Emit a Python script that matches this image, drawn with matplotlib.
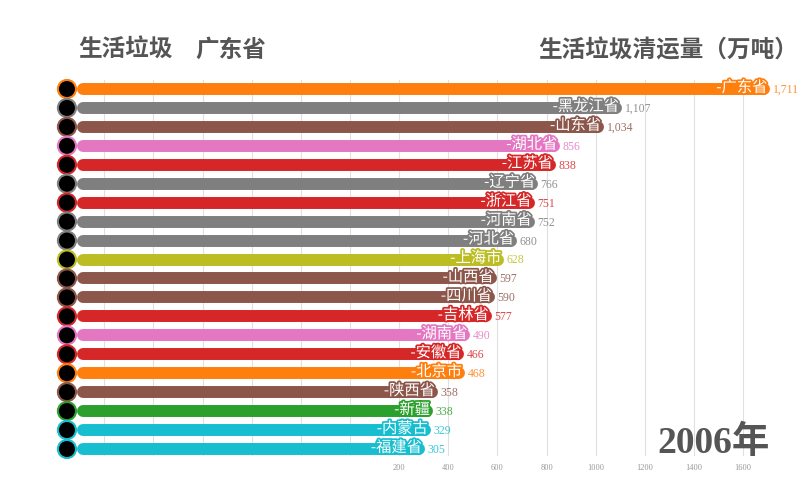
import matplotlib
matplotlib.use("Agg")
import matplotlib.pyplot as plt
import matplotlib.patheffects as pe
import numpy as np

plt.rcParams['font.family'] = ['Noto Sans CJK SC', 'DejaVu Sans']

# 2006年 各省生活垃圾清运量（万吨）
provinces = ['广东省', '黑龙江省', '山东省', '湖北省', '江苏省', '辽宁省', '浙江省',
             '河南省', '河北省', '上海市', '山西省', '四川省', '吉林省', '湖南省',
             '安徽省', '北京市', '陕西省', '新疆', '内蒙古', '福建省']
values = [1711, 1107, 1034, 856, 838, 766, 751, 752, 680, 628, 597, 590, 577,
          490, 466, 468, 358, 338, 329, 305]
colors = ['#ff7f0e', '#7f7f7f', '#8c564b', '#e377c2', '#d62728', '#7f7f7f',
          '#d62728', '#7f7f7f', '#7f7f7f', '#bcbd22', '#8c564b', '#8c564b',
          '#d62728', '#e377c2', '#d62728', '#ff7f0e', '#8c564b', '#2ca02c',
          '#17becf', '#17becf']
year = '2006年'

fig = plt.figure(figsize=(8, 5), dpi=100)
ax = fig.add_axes([0, 0.088, 1, 0.752])

upp = 4.07  # data units per pixel
ax.set_xlim(-350 * upp, 450 * upp)
ax.set_ylim(19.37, -0.475)

bar_start = -1111
cap = 6 * upp
dot_x = -1152

y = np.arange(len(values))
for i, (name, v, c) in enumerate(zip(provinces, values, colors)):
    ax.plot([bar_start + cap, v - cap], [i, i], color=c, lw=8.6,
            solid_capstyle='round', zorder=2)
    ax.text(v - 3 * upp, i - 0.08, '-' + name, ha='right', va='center',
            fontsize=11, color='white', zorder=4, fontweight='medium',
            path_effects=[pe.withStroke(linewidth=2.5, foreground=c)])
    ax.text(v + 2.5 * upp, i + 0.05, f'{v:,}', ha='left', va='center',
            fontsize=8.5, color=c, alpha=0.85, family='Liberation Serif',
            zorder=4)

ax.scatter(np.full(len(values), dot_x), y, s=170, color='black',
           edgecolors=colors, linewidths=1.5, zorder=3, clip_on=False)

ticks = np.arange(-1000, 1601, 200)
ax.set_xticks(ticks)
ax.set_xticklabels([str(t) if t > 0 else '' for t in ticks],
                   fontsize=6, color='#999999', family='Liberation Serif')
ax.tick_params(axis='x', length=0, pad=6)
ax.set_yticks([])
ax.grid(axis='x', color='#e0e0e0', lw=0.8, zorder=0)
ax.set_axisbelow(True)
for s in ax.spines.values():
    s.set_visible(False)

fig.text(78 / 800, 1 - 50 / 500, '生活垃圾', fontsize=17, fontweight='bold',
         color='#555555', va='center', ha='left')
fig.text(195 / 800, 1 - 50 / 500, '广东省', fontsize=17, fontweight='bold',
         color='#555555', va='center', ha='left')
fig.text(798 / 800, 1 - 50 / 500, '生活垃圾清运量（万吨）', fontsize=17,
         fontweight='bold', color='#555555', va='center', ha='right')
fig.text(770 / 800, 1 - 443 / 500, year, fontsize=27, fontweight='bold',
         color='#555555', va='center', ha='right',
         family=['Liberation Serif', 'Noto Sans CJK SC'])

fig.savefig('out.png', dpi=100)
